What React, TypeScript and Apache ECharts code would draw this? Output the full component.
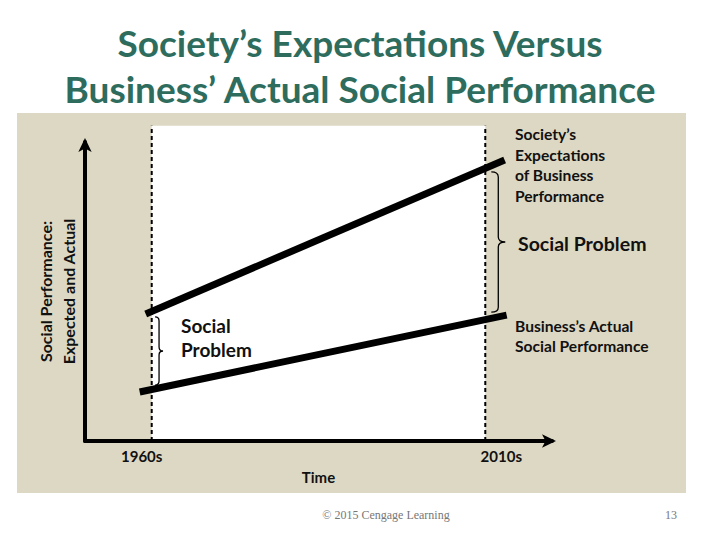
import React, { useEffect, useRef } from "react";
import * as echarts from "echarts";

// ---- data (conceptual values) ----
const eraBounds = [1960, 2010]; // dashed era markers
const xRange = [1950, 2020];
const yRange = [0, 100];
const panelTop = 105.4; // top of the white era panel (value units)
const expectationPoints = [
  [1959.1, 42.5],
  [2012.9, 94.0],
];
const actualPoints = [
  [1958.2, 16.4],
  [2013.2, 42.1],
];
// braces: [x, yTop, yBottom]
const braces = [
  [1960.5, 41.5, 18.7],
  [2010.9, 90.0, 43.1],
];
const braceWidths = [8, 14];
const tickLabels: Record<number, string> = { 1960: "1960s", 2010: "2010s" };

const FONT = "Lato, 'Open Sans', sans-serif";

export default function App() {
  const ref = useRef<HTMLDivElement>(null);
  useEffect(() => {
    if (!ref.current) return;
    const chart = echarts.init(ref.current, undefined, { renderer: "svg" });
    const option: any = {
      animation: false,
      backgroundColor: "#ffffff",
      title: {
        text: "Society’s Expectations Versus\nBusiness’ Actual Social Performance",
        left: "center",
        top: 14,
        textStyle: {
          fontFamily: FONT,
          fontSize: 37,
          fontWeight: "bold",
          color: "#2e6d5d",
          lineHeight: 46,
        },
      },
      grid: { left: 85, right: 168, top: 142, bottom: 99, containLabel: false },
      xAxis: {
        type: "value",
        min: xRange[0],
        max: xRange[1],
        interval: 10,
        z: 5,
        name: "Time",
        nameLocation: "middle",
        nameGap: 28,
        nameTextStyle: { fontFamily: FONT, fontSize: 15, fontWeight: "bold", color: "#111" },
        axisLine: {
          show: true,
          symbol: ["none", "arrow"],
          symbolSize: [10, 14],
          symbolOffset: [0, 4],
          lineStyle: { color: "#000", width: 4 },
        },
        axisTick: { show: false },
        splitLine: { show: false },
        axisLabel: {
          margin: 7,
          color: "#111",
          fontFamily: FONT,
          fontSize: 15,
          fontWeight: "bold",
          formatter: (v: number) =>
            tickLabels[v] ? (v === 1960 ? `{a|${tickLabels[v]}}` : `{b|${tickLabels[v]}}`) : "",
          rich: {
            a: { fontFamily: FONT, fontSize: 15, fontWeight: "bold", color: "#111", padding: [0, 20, 0, 0] },
            b: { fontFamily: FONT, fontSize: 15, fontWeight: "bold", color: "#111", padding: [0, 0, 0, 32] },
          },
        },
      },
      yAxis: {
        type: "value",
        min: yRange[0],
        max: yRange[1],
        z: 5,
        name: "Social Performance:\nExpected and Actual",
        nameLocation: "middle",
        nameRotate: 90,
        nameGap: 5,
        nameTextStyle: {
          fontFamily: FONT,
          fontSize: 16,
          fontWeight: "bold",
          color: "#111",
          lineHeight: 23,
        },
        axisLine: {
          show: true,
          symbol: ["none", "arrow"],
          symbolSize: [10, 14],
          symbolOffset: [0, 4],
          lineStyle: { color: "#000", width: 4 },
        },
        axisTick: { show: false },
        axisLabel: { show: false },
        splitLine: { show: false },
      },
      graphic: [
        {
          type: "rect",
          z: -10,
          shape: { x: 17, y: 113, width: 669, height: 380 },
          style: { fill: "#ddd8c3" },
          silent: true,
        },
        {
          type: "text",
          z: 20,
          style: {
            text: "Society’s\nExpectations\nof Business\nPerformance",
            x: 515,
            y: 124,
            font: `bold 15.6px ${FONT}`,
            lineHeight: 20.5,
            fill: "#111",
            textAlign: "left",
            textVerticalAlign: "top",
          },
        },
        {
          type: "text",
          z: 20,
          style: {
            text: "Social Problem",
            x: 518,
            y: 243,
            font: `bold 19.5px ${FONT}`,
            fill: "#111",
            textAlign: "left",
            textVerticalAlign: "middle",
          },
        },
        {
          type: "text",
          z: 20,
          style: {
            text: "Business’s Actual\nSocial Performance",
            x: 515,
            y: 316,
            font: `bold 15.6px ${FONT}`,
            lineHeight: 20,
            fill: "#111",
            textAlign: "left",
            textVerticalAlign: "top",
          },
        },
        {
          type: "text",
          z: 20,
          style: {
            text: "Social\nProblem",
            x: 181,
            y: 313,
            font: `bold 19px ${FONT}`,
            lineHeight: 24,
            fill: "#111",
            textAlign: "left",
            textVerticalAlign: "top",
          },
        },
        {
          type: "text",
          z: 20,
          style: {
            text: "© 2015 Cengage Learning",
            x: 386,
            y: 515,
            font: `12px 'Liberation Serif', 'Times New Roman', serif`,
            fill: "#777",
            textAlign: "center",
            textVerticalAlign: "middle",
          },
        },
        {
          type: "text",
          z: 20,
          style: {
            text: "13",
            x: 671,
            y: 515,
            font: `12px 'Liberation Serif', 'Times New Roman', serif`,
            fill: "#777",
            textAlign: "center",
            textVerticalAlign: "middle",
          },
        },
      ],
      series: [
        {
          type: "custom",
          name: "era panel",
          z: 1,
          clip: false,
          silent: true,
          data: [[eraBounds[0], eraBounds[1], panelTop]],
          renderItem: (params: any, api: any) => {
            const p0 = api.coord([api.value(0), api.value(2)]);
            const p1 = api.coord([api.value(1), 0]);
            return {
              type: "rect",
              shape: { x: p0[0], y: p0[1], width: p1[0] - p0[0], height: p1[1] - p0[1] },
              style: { fill: "#ffffff" },
            };
          },
        },
        ...eraBounds.map((b) => ({
          type: "line",
          z: 2,
          clip: false,
          silent: true,
          symbol: "none",
          data: [
            [b, 0],
            [b, panelTop],
          ],
          lineStyle: { color: "#000", width: 2, type: [4, 3] },
        })),
        {
          type: "line",
          name: "Society’s Expectations of Business Performance",
          z: 4,
          clip: false,
          symbol: "none",
          data: expectationPoints,
          lineStyle: { color: "#000", width: 7, cap: "butt" },
        },
        {
          type: "line",
          name: "Business’s Actual Social Performance",
          z: 4,
          clip: false,
          symbol: "none",
          data: actualPoints,
          lineStyle: { color: "#000", width: 7, cap: "butt" },
        },
        {
          type: "custom",
          name: "braces",
          z: 3,
          clip: false,
          silent: true,
          data: braces,
          renderItem: (params: any, api: any) => {
            const top = api.coord([api.value(0), api.value(1)]);
            const bot = api.coord([api.value(0), api.value(2)]);
            const w = braceWidths[params.dataIndex];
            const x0 = top[0];
            const x1 = x0 + w / 2;
            const x2 = x0 + w;
            const y1 = top[1];
            const y2 = bot[1];
            const ym = (y1 + y2) / 2;
            const r = Math.min(w / 2, 5);
            const d =
              `M${x0},${y1} Q${x1},${y1} ${x1},${y1 + r} L${x1},${ym - r} Q${x1},${ym} ${x2},${ym} ` +
              `Q${x1},${ym} ${x1},${ym + r} L${x1},${y2 - r} Q${x1},${y2} ${x0},${y2}`;
            return {
              type: "path",
              shape: { pathData: d },
              style: { fill: "none", stroke: "#000", lineWidth: 1.3 },
            };
          },
        },
      ],
    };
    chart.setOption(option);
    return () => chart.dispose();
  }, []);
  return (
    <div
      ref={ref}
      style={{ position: "fixed", left: 0, top: 0, width: 720, height: 540 }}
    />
  );
}
